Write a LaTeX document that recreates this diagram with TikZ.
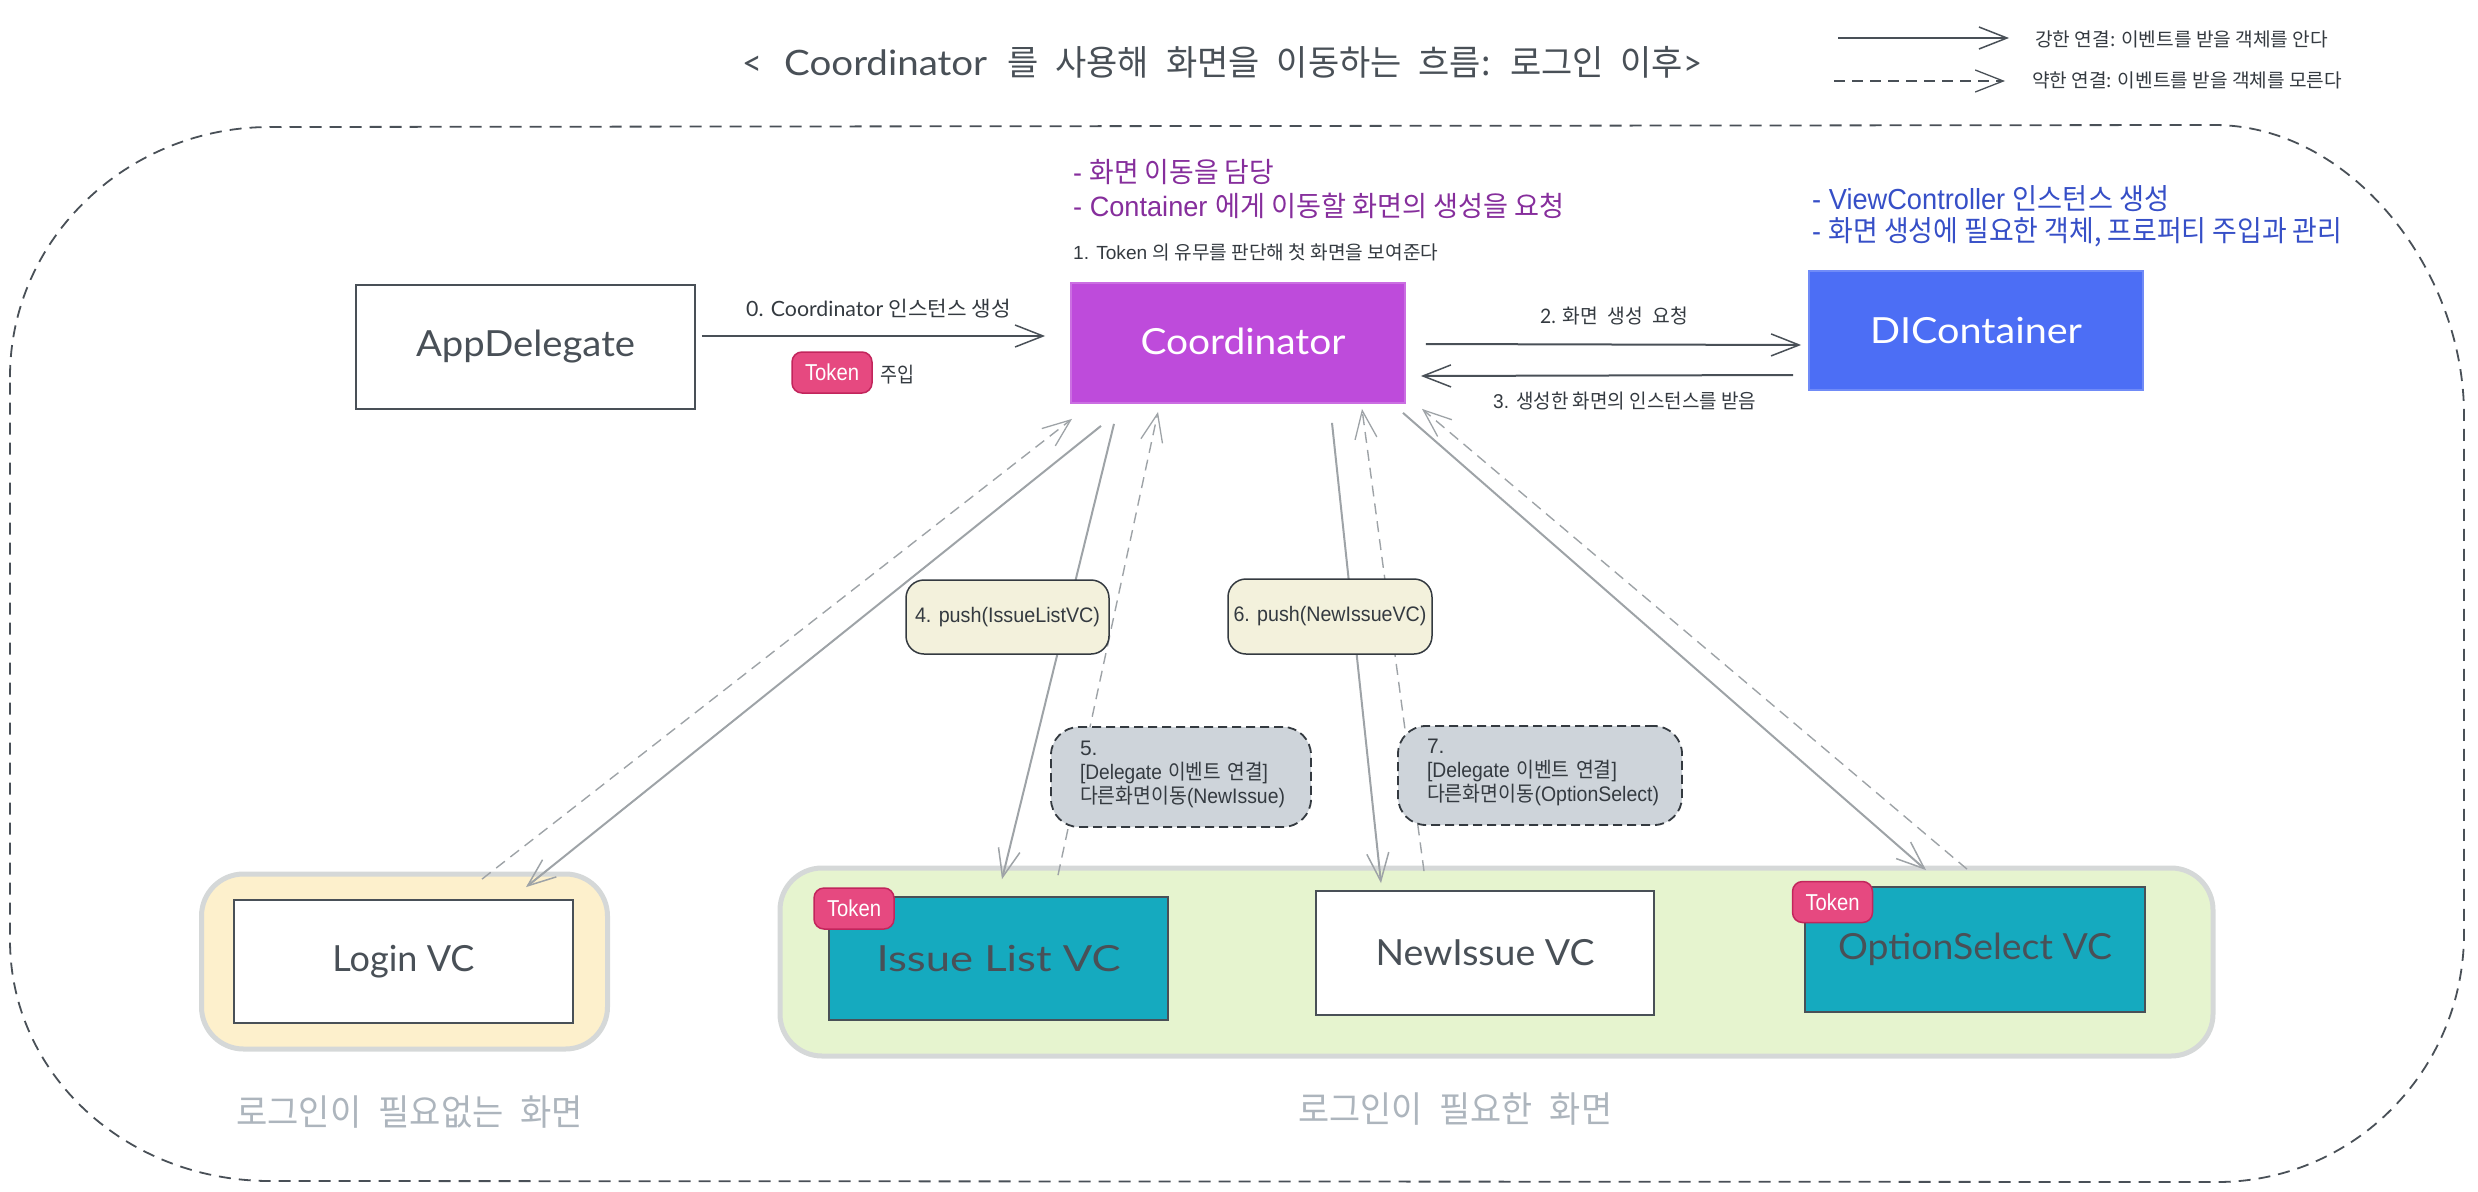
\documentclass[tikz,border=0pt]{standalone}
\usepackage{graphicx}
\usepackage{fontspec}
\setmainfont{Liberation Sans}
\newfontfamily\kr{Noto Sans CJK KR}
\newfontfamily\hand{Lato}
\usetikzlibrary{arrows.meta}
\newcommand{\fitx}[2]{\resizebox{#1pt}{\height}{#2}}
\newcommand{\fs}[1]{\fontsize{#1}{#1}\selectfont}
\newcommand{\K}[1]{{\kr #1}}
\newcommand{\KW}[1]{{\kr\spaceskip=0.5em #1}}
\definecolor{ink}{HTML}{495057}
\definecolor{dark}{HTML}{343A40}
\definecolor{edgegrey}{HTML}{9EA3A7}
\definecolor{capgrey}{HTML}{ADB5BD}
\definecolor{purpletext}{HTML}{862E9C}
\definecolor{bluetext}{HTML}{364FC7}
\definecolor{coordfill}{HTML}{BE4BDB}
\definecolor{difill}{HTML}{4C6EF5}
\definecolor{vcfill}{HTML}{15AABF}
\definecolor{tokenfill}{HTML}{E64980}
\definecolor{tokenline}{HTML}{C2255C}
\definecolor{notefill}{HTML}{F3F1DC}
\definecolor{delegfill}{HTML}{CED4DA}
\definecolor{groupline}{HTML}{D5D8D8}
\definecolor{yellowgroup}{HTML}{FDF0CC}
\definecolor{greengroup}{HTML}{E6F4CF}
\tikzset{
  sk/.style={draw=ink,line width=1.8pt,inner sep=0pt,font=\hand\fs{36},text=ink},
  groupbox/.style={draw=groupline,line width=5pt,rounded corners=42pt,inner sep=0pt},
  txt/.style={inner sep=0pt,anchor=west},
  pushnote/.style={draw=dark,line width=1.5pt,fill=notefill,rounded corners=18pt,inner sep=0pt,text=dark,font=\fs{21}},
  delegnote/.style={draw=dark,line width=1.8pt,dash pattern=on 9pt off 5pt,fill=delegfill,rounded corners=28pt,inner sep=0pt,text=dark,font=\fontsize{21}{24}\selectfont,align=left},
  token/.style={draw=tokenline,line width=1.5pt,fill=tokenfill,rounded corners=10pt,inner sep=0pt,text=white,font=\fs{23},minimum width=80pt,minimum height=41pt},
  strong/.style={draw=edgegrey,line width=2pt,-{Straight Barb[length=28pt,width=22pt,line width=1.5pt]}},
  weak/.style={draw=edgegrey,line width=1.4pt,dash pattern=on 11pt off 7pt,-{Straight Barb[length=28pt,width=22pt,line width=1.3pt]}},
  strongdark/.style={strong,draw=ink},
  weakdark/.style={weak,draw=ink},
}
\begin{document}
\begin{tikzpicture}[x=1pt,y=-1pt]
\useasboundingbox (0,0) rectangle (2478,1191);
% outer dashed frame
\draw[draw=ink,line width=1.8pt,dash pattern=on 12pt off 8pt]
  (10,377) .. controls (10,239) and (127,127) .. (270,127)
  -- (2214,125) .. controls (2351,125) and (2464,270) .. (2464,415)
  -- (2464,933) .. controls (2464,1070) and (2354,1182) .. (2217,1182)
  -- (270,1181) .. controls (127,1181) and (10,1075) .. (10,940) -- cycle;
% title and legend
\node[txt,text=ink,font=\fs{35}] (title) at (742,62) {\fitx{20}{\hand <}\hspace{22pt}\fitx{203}{\hand Coordinator}\hspace{20pt}\fitx{676}{\KW{를 사용해 화면을 이동하는 흐름: 로그인 이후}}\fitx{19}{\hand >}};
\coordinate (la1) at (1838,38);
\coordinate (la2) at (2009,38);
\coordinate (lb1) at (1834,81);
\coordinate (lb2) at (2005,81);
\draw[strongdark] (la1) -- (la2);
\draw[weakdark] (lb1) -- (lb2);
\node[txt,text=dark,font=\kr\fs{19}] (legA) at (2035,39) {\fitx{293}{강한 연결: 이벤트를 받을 객체를 안다}};
\node[txt,text=dark,font=\kr\fs{19}] (legB) at (2032,80) {\fitx{310}{약한 연결: 이벤트를 받을 객체를 모른다}};
% groups
\node[groupbox,fill=yellowgroup,minimum width=406pt,minimum height=175pt] (gLogin) at (404.5,961.5) {};
\node[groupbox,fill=greengroup,minimum width=1433pt,minimum height=188pt] (gAuth) at (1496.5,962) {};
% main boxes
\node[sk,fill=white,minimum width=339pt,minimum height=124pt] (app) at (525.5,347) {\raisebox{-4pt}{\fitx{219}{AppDelegate}}};
\node[sk,draw=coordfill!80!white,fill=coordfill,text=white,minimum width=334pt,minimum height=120pt] (coord) at (1238,343) {\hspace{10pt}\raisebox{3pt}{\fitx{205}{Coordinator}}};
\node[sk,draw=difill!80!white,fill=difill,text=white,minimum width=334pt,minimum height=119pt] (di) at (1976,330.5) {\raisebox{1pt}{\fitx{212}{DIContainer}}};
\node[sk,fill=white,minimum width=339pt,minimum height=123pt] (loginvc) at (403.5,961.5) {\fitx{142}{Login VC}};
\node[sk,fill=vcfill,minimum width=339pt,minimum height=123pt] (issue) at (998.5,958.5) {\fitx{244}{Issue List VC}};
\node[sk,fill=white,minimum width=338pt,minimum height=124pt] (newissue) at (1485,953) {\fitx{219}{NewIssue VC}};
\node[sk,fill=vcfill,minimum width=340pt,minimum height=125pt] (option) at (1975,949.5) {\fitx{274}{OptionSelect VC}\hspace{6pt}};
% captions
\node[txt,text=capgrey,font=\fs{36}] (capA) at (236,1112) {\fitx{347}{\KW{로그인이 필요없는 화면}}};
\node[txt,text=capgrey,font=\fs{36}] (capB) at (1298,1109) {\fitx{314}{\KW{로그인이 필요한 화면}}};
% role texts
\node[txt,text=purpletext,font=\fs{28}] (roleA) at (1073,172) {\fitx{201}{- \K{화면 이동을 담당}}};
\node[txt,text=purpletext,font=\fs{28}] (roleB) at (1073,206) {\fitx{491}{- Container \K{에게 이동할 화면의 생성을 요청}}};
\node[txt,text=dark,font=\fs{19}] (step1) at (1073,252) {\fitx{365}{1. Token \K{의 유무를 판단해 첫 화면을 보여준다}}};
\node[txt,text=bluetext,font=\fs{29}] (diA) at (1812,199) {\fitx{357}{- ViewController \K{인스턴스 생성}}};
\node[txt,text=bluetext,font=\fs{29}] (diB) at (1812,232) {\fitx{530}{- \K{화면 생성에 필요한 객체, 프로퍼티 주입과 관리}}};
% top labels
\node[txt,text=dark,font=\fs{21}] (l0) at (746,309) {\fitx{265}{{\hand 0. Coordinator }\K{인스턴스 생성}}};
\node[txt,text=dark,font=\kr\fs{21}] (inj) at (880,375) {\fitx{34}{주입}};
\node[txt,text=dark,font=\fs{20}] (l2) at (1540,316) {\fitx{148}{{\hand 2. }\KW{화면 생성 요청}}};
\node[txt,text=dark,font=\fs{20}] (l3) at (1493,401) {\fitx{263}{3. \K{생성한 화면의 인스턴스를 받음}}};
% connectors top
\draw[strongdark] ([xshift=6pt,yshift=11pt]app.east) -- ([xshift=-25pt,yshift=7pt]coord.west);
\draw[strongdark] ([xshift=20pt,yshift=-1pt]coord.east) -- ([xshift=-7pt,yshift=-14.5pt]di.west);
\draw[strongdark] ([xshift=-15pt,yshift=-44.5pt]di.west) -- ([xshift=15pt,yshift=-33pt]coord.east);
% connectors down
\draw[strong] ([xshift=-137pt,yshift=-22pt]coord.south) -- ([xshift=122.5pt,yshift=12pt]loginvc.north);
\draw[weak] ([xshift=78.5pt,yshift=20pt]loginvc.north) -- ([xshift=-166pt,yshift=-15pt]coord.south);
\draw[strong] ([xshift=-124pt,yshift=-20pt]coord.south) -- ([xshift=3.5pt,yshift=17pt]issue.north);
\draw[weak] ([xshift=59.5pt,yshift=21pt]issue.north) -- ([xshift=-80pt,yshift=-8pt]coord.south);
\draw[strong] ([xshift=94pt,yshift=-19pt]coord.south) -- ([xshift=-104pt,yshift=7pt]newissue.north);
\draw[weak] ([xshift=-61pt,yshift=19pt]newissue.north) -- ([xshift=124pt,yshift=-5pt]coord.south);
\draw[strong] ([xshift=165pt,yshift=-9pt]coord.south) -- ([xshift=-49pt,yshift=16pt]option.north);
\draw[weak] ([xshift=-8pt,yshift=17pt]option.north) -- ([xshift=184pt,yshift=-5pt]coord.south);
% notes
\node[pushnote,minimum width=203pt,minimum height=74pt] (n4) at (1007.5,617) {\fitx{185}{4. push(IssueListVC)}};
\node[pushnote,minimum width=204pt,minimum height=75pt] (n6) at (1330,616.5) {\raisebox{4pt}{\fitx{193}{6. push(NewIssueVC)}}};
\node[delegnote,minimum width=260pt,minimum height=100pt,text width=231pt] (n5) at (1181,777) {\hspace*{14.5pt}5.\\\hspace*{14.5pt}\fitx{188}{{[}Delegate \K{이벤트 연결}{]}}\\\hspace*{14.5pt}\fitx{205}{\K{다른화면이동}(NewIssue)}\rule[-10pt]{0pt}{1pt}};
\node[delegnote,minimum width=284pt,minimum height=99pt,text width=255pt] (n7) at (1540,775.5) {\hspace*{14.5pt}7.\\\hspace*{14.5pt}\fitx{190}{{[}Delegate \K{이벤트 연결}{]}}\\\hspace*{14.5pt}\fitx{232}{\K{다른화면이동}(OptionSelect)}\rule[-10pt]{0pt}{1pt}};
% tokens
\node[token] (t0) at (832,372.5) {\fitx{54}{Token}};
\node[token] (t1) at (854,908.5) {\fitx{54}{Token}};
\node[token] (t2) at (1832.5,902) {\fitx{54}{Token}};
\end{tikzpicture}
\end{document}
